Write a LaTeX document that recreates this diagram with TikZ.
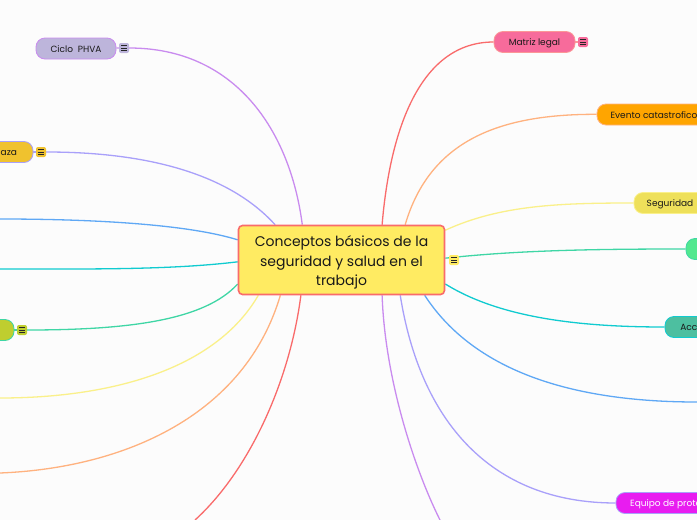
\documentclass[tikz,border=0pt]{standalone}
\usepackage{fontspec}
\setmainfont{Poppins}
\usetikzlibrary{backgrounds}

\definecolor{colmain}{HTML}{FFEB62}
\definecolor{colred}{HTML}{F96B6B}
\definecolor{colorange}{HTML}{FFB27F}
\definecolor{colyellow}{HTML}{FAF08A}
\definecolor{colgreen}{HTML}{3FD6A5}
\definecolor{colteal}{HTML}{10CBD0}
\definecolor{colblue}{HTML}{5FA8F5}
\definecolor{colviolet}{HTML}{A9A0FA}
\definecolor{colpurple}{HTML}{C98BEF}
\definecolor{fillciclo}{HTML}{BDB5DB}
\definecolor{fillamenaza}{HTML}{F0C22E}
\definecolor{filllime}{HTML}{BFCE2F}
\definecolor{fillmatriz}{HTML}{F76B9B}
\definecolor{fillevento}{HTML}{FFA500}
\definecolor{fillseguridad}{HTML}{EEE05A}
\definecolor{fillmint}{HTML}{52E88F}
\definecolor{fillaccidente}{HTML}{4DBFA0}
\definecolor{fillequipo}{HTML}{E81CF0}

\tikzset{
    topic/.style={draw=#1, line width=.8pt, rounded corners=9pt, minimum height=21pt, inner sep=0pt,
        text height=7pt, text depth=0pt, text=black!90, font=\fontsize{9}{10}\selectfont},
    menuicon/.style={fill=#1, rounded corners=2pt, minimum size=10pt, inner sep=0pt,
        path picture={
            \draw[black!85, line width=.7pt]
                ([xshift=-3pt,yshift=2.5pt]path picture bounding box.center) -- ++(6pt,0)
                ([xshift=-3pt]path picture bounding box.center) -- ++(6pt,0)
                ([xshift=-3pt,yshift=-2.5pt]path picture bounding box.center) -- ++(6pt,0);
        }},
    link/.style={draw=#1, line width=1.3pt},
}

\begin{document}
\begin{tikzpicture}[x=1pt,y=-1pt]
    \useasboundingbox (0,0) rectangle (697,520);
    \clip (0,0) rectangle (697,520);

    \node[draw=colred, fill=colmain, line width=1.6pt, rounded corners=4pt, minimum width=206pt, minimum height=69pt,
        inner sep=0pt, align=center, text=black!90, font=\fontsize{14}{19.5}\selectfont] (main) at (341.5,260)
        {\rule{0pt}{16pt}Conceptos básicos de la\\seguridad y salud en el\\trabajo};
    \node[menuicon=colmain] (mainicon) at (454,260) {};

    % left side
    \node[topic=colpurple, fill=fillciclo, minimum width=80pt] (ciclo) at (76,48.5) {Ciclo\ \ PHVA};
    \node[menuicon=fillciclo] (cicloicon) at (124,48) {};
    \node[topic=colviolet, fill=fillamenaza, minimum width=75pt] (amenaza) at (-4.5,152) {Amenaza};
    \node[menuicon=fillamenaza] (amenazaicon) at (41,152) {};
    \node[topic=colgreen, fill=filllime, minimum width=60pt] (limenode) at (-16,330) {};
    \node[menuicon=filllime] (limeicon) at (22,330) {};

    % right side
    \node[topic=colred!70!white, fill=fillmatriz, minimum width=81pt] (matriz) at (534.5,42) {Matriz legal};
    \node[menuicon=fillmatriz] (matrizicon) at (583,42) {};
    \node[topic=colorange, fill=fillevento, minimum width=114pt] (evento) at (654,114.5) {Evento catastrofico};
    \node[topic=colyellow, fill=fillseguridad, minimum width=72pt] (seguridad) at (670,203) {Seguridad};
    \node[topic=colgreen, fill=fillmint, minimum width=60pt] (mint) at (716,249) {};
    \node[topic=colteal, fill=fillaccidente, minimum width=76pt] (accidente) at (703,327) {Accidente};
    \node[topic=colviolet, fill=fillequipo, minimum width=124pt, text=white] (equipo) at (678,503) {Equipo de protección};

    \coordinate (endblueleft) at (0,219);
    \coordinate (endtealleft) at (0,269);
    \coordinate (endyellowleft) at (0,398);
    \coordinate (endorangeleft) at (0,473);
    \coordinate (endredleft) at (195,520);
    \coordinate (endblueright) at (697,402);
    \coordinate (endpurpleright) at (440,520);

    \begin{scope}[on background layer]
        \fill[white!99!black] (0,0) rectangle (697,520);
        \draw[link=colpurple] (ciclo) -- (cicloicon);
        \draw[link=colviolet] (amenaza) -- (amenazaicon);
        \draw[link=colgreen] (limenode) -- (limeicon);
        \draw[link=colred!70!white] (matriz) -- (matrizicon);

        \draw[link=colpurple] (cicloicon) .. controls (235,48) and (290,130) .. (main.138.5);
        \draw[link=colviolet] (amenazaicon) .. controls (150,152) and (230,175) .. (main.152);
        \draw[link=colblue] (endblueleft) .. controls (100,219) and (190,225) .. (main.169);
        \draw[link=colteal] (endtealleft) .. controls (90,269) and (170,270) .. (main.181.7);
        \draw[link=colgreen] (limeicon) .. controls (130,330) and (205,320) .. (main.193.6);
        \draw[link=colyellow] (endyellowleft) .. controls (110,398) and (215,370) .. (main.203.8);
        \draw[link=colorange] (endorangeleft) .. controls (125,468) and (245,415) .. (main.210.9);
        \draw[link=colred] (endredleft) .. controls (250,470) and (290,380) .. (main.221.5);

        \draw[link=colred] (matriz) .. controls (420,42) and (390,130) .. (main.41.5);
        \draw[link=colorange] (evento) .. controls (500,114) and (430,140) .. (main.29.6);
        \draw[link=colyellow] (seguridad) .. controls (560,203) and (500,205) .. (main.16.7);
        \draw[link=colgreen] (mint) .. controls (600,249) and (520,250) .. (main.1.7);
        \draw[link=colteal] (accidente) .. controls (580,327) and (500,318) .. (main.-13.6);
        \draw[link=colblue] (endblueright) .. controls (560,402) and (470,365) .. (main.-23.8);
        \draw[link=colviolet] (equipo) .. controls (490,503) and (420,420) .. (main.-31.8);
        \draw[link=colpurple] (endpurpleright) .. controls (415,470) and (385,380) .. (main.-41.5);
    \end{scope}
\end{tikzpicture}
\end{document}
